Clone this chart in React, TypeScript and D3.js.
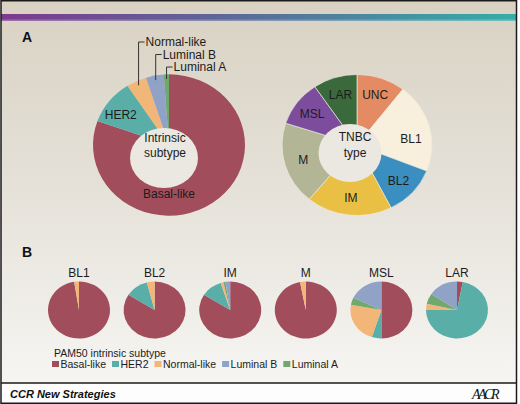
import React from "react";
import * as d3 from "d3";

// PAM50 intrinsic subtype share among all TNBC (clockwise from 12 o'clock)
const intrinsicNames = ["Basal-like", "HER2", "Normal-like", "Luminal B", "Luminal A"];
const intrinsicShares = [80.5, 10.3, 4.3, 3.8, 1.1];

// TNBC molecular subtype share (clockwise from 12 o'clock)
const tnbcNames = ["UNC", "BL1", "BL2", "IM", "M", "MSL", "LAR"];
const tnbcShares = [10.5, 20.5, 11.5, 18.5, 19, 10.5, 9.5];

// intrinsic subtype per TNBC subtype, slices in this order
const pieOrder = ["Basal-like", "HER2", "Normal-like", "Luminal A", "Luminal B"];
const subtypeTitles = ["BL1", "BL2", "IM", "M", "MSL", "LAR"];
const bl1Shares = [97.5, 0, 2.5, 0, 0];
const bl2Shares = [84, 12, 4, 0, 0];
const imShares = [84, 11, 1.5, 1, 2.5];
const mShares = [97, 0, 3, 0, 0];
const mslShares = [50, 5, 23, 4, 18];
const larShares = [3, 72, 3.5, 6, 15.5];
const subtypeShares = [bl1Shares, bl2Shares, imShares, mShares, mslShares, larShares];

const legendNames = ["Basal-like", "HER2", "Normal-like", "Luminal B", "Luminal A"];

const intrinsicColor: Record<string, string> = {
  "Basal-like": "#a24d5c",
  HER2: "#5aaea8",
  "Normal-like": "#f2b778",
  "Luminal B": "#90a2c5",
  "Luminal A": "#70a86f",
};
const tnbcColor: Record<string, string> = {
  UNC: "#e48b63",
  BL1: "#f8efdc",
  BL2: "#3b8ec0",
  IM: "#e9c044",
  M: "#b3b597",
  MSL: "#7c4d9d",
  LAR: "#3a6a3c",
};

const FONT = "'Liberation Sans', Arial, Helvetica, sans-serif";
const INK = "#1c1c1c";

type Slice = { name: string; value: number };

const pieGen = d3
  .pie<Slice>()
  .sort(null)
  .value((d) => d.value);

// canvas text measurement for the legend row
function textWidth(s: string, size: number) {
  const ctx = document.createElement("canvas").getContext("2d");
  if (!ctx) return s.length * size * 0.5;
  ctx.font = `${size}px ${FONT}`;
  return ctx.measureText(s).width;
}

function IntrinsicDonut() {
  const cx = 169, cy = 145, r = 76, sy = 0.93;
  const data = intrinsicNames.map((name, i) => ({ name, value: intrinsicShares[i] }));
  const arcs = pieGen(data);
  const arc = d3.arc<d3.PieArcDatum<Slice>>().innerRadius(0).outerRadius(r);
  const pt = (a: number, rad: number) => [cx + rad * Math.sin(a), cy - rad * sy * Math.cos(a)];
  const callouts = ["Normal-like", "Luminal B", "Luminal A"];
  const labelY = d3.scalePoint<string>().domain(callouts).range([42, 67]);
  return (
    <g>
      <g transform={`translate(${cx},${cy}) scale(1,${sy})`}>
        {arcs.map((a) => (
          <path key={a.data.name} d={arc(a) || ""} fill={intrinsicColor[a.data.name]} />
        ))}
      </g>
      <ellipse cx={cx - 5} cy={cy + 13} rx={34} ry={30} fill="#ebe8e1" />
      <text x={cx - 4} y={cy - 3} textAnchor="middle" fontSize={12} fill={INK} fontFamily={FONT}>
        Intrinsic
      </text>
      <text x={cx - 4} y={cy + 12} textAnchor="middle" fontSize={12} fill={INK} fontFamily={FONT}>
        subtype
      </text>
      {arcs.map((a) => {
        const mid = (a.startAngle + a.endAngle) / 2;
        if (a.data.name === "Basal-like") {
          // sits below the hole rather than at the slice centroid
          const [x, y] = pt(Math.PI, 52);
          return (
            <text key="bl" x={x} y={y} dy="0.35em" textAnchor="middle" fontSize={12} fill={INK} fontFamily={FONT}>
              Basal-like
            </text>
          );
        }
        if (a.data.name === "HER2") {
          const [x, y] = pt(mid - 0.08, 58);
          return (
            <text key="her2" x={x} y={y} dy="0.35em" textAnchor="middle" fontSize={12} fill={INK} fontFamily={FONT}>
              HER2
            </text>
          );
        }
        const [x0, y0] = pt(mid, r - 5);
        const ly = labelY(a.data.name) as number;
        return (
          <g key={a.data.name}>
            <path d={`M${x0},${y0}V${ly}h6`} fill="none" stroke="#333" strokeWidth={1} />
            <text x={x0 + 7} y={ly} dy="0.35em" fontSize={12} fill={INK} fontFamily={FONT}>
              {a.data.name}
            </text>
          </g>
        );
      })}
    </g>
  );
}

function TnbcDonut() {
  const cx = 357, cy = 145, r = 75, sy = 0.94;
  const data = tnbcNames.map((name, i) => ({ name, value: tnbcShares[i] }));
  const arcs = pieGen(data);
  const arc = d3.arc<d3.PieArcDatum<Slice>>().innerRadius(0).outerRadius(r);
  const labelArc = d3.arc<d3.PieArcDatum<Slice>>().innerRadius(56).outerRadius(56);
  const nudgeY: Record<string, number> = { BL1: 8 };
  return (
    <g>
      <g transform={`translate(${cx},${cy}) scale(1,${sy})`}>
        {arcs.map((a) => (
          <path
            key={a.data.name}
            d={arc(a) || ""}
            fill={tnbcColor[a.data.name]}
            stroke="#efe9dc"
            strokeWidth={0.7}
          />
        ))}
      </g>
      <ellipse cx={cx - 7} cy={cy + 8} rx={31.5} ry={29} fill="#ebe8e1" />
      <text x={cx - 2} y={cy - 4} textAnchor="middle" fontSize={12} fill={INK} fontFamily={FONT}>
        TNBC
      </text>
      <text x={cx - 2} y={cy + 12} textAnchor="middle" fontSize={12} fill={INK} fontFamily={FONT}>
        type
      </text>
      {arcs.map((a) => {
        const [x, y] = labelArc.centroid(a);
        return (
          <text
            key={a.data.name}
            x={cx + x}
            y={cy + y * sy + (nudgeY[a.data.name] || 0)}
            dy="0.35em"
            textAnchor="middle"
            fontSize={12}
            fill={INK}
            fontFamily={FONT}
          >
            {a.data.name}
          </text>
        );
      })}
    </g>
  );
}

function SubtypePies() {
  const x = d3.scalePoint<string>().domain(subtypeTitles).range([79, 457]);
  const cy = 310, r = 31, sy = 0.92;
  const arc = d3.arc<d3.PieArcDatum<Slice>>().innerRadius(0).outerRadius(r);
  return (
    <g>
      {subtypeTitles.map((title, i) => {
        const data = pieOrder.map((name, j) => ({ name, value: subtypeShares[i][j] }));
        const arcs = pieGen(data).filter((a) => a.data.value > 0);
        const px = x(title) as number;
        return (
          <g key={title}>
            <text x={px} y={273} dy="0.35em" textAnchor="middle" fontSize={12} fill={INK} fontFamily={FONT}>
              {title}
            </text>
            <g transform={`translate(${px},${cy}) scale(1,${sy})`}>
              {arcs.map((a) => (
                <path key={a.data.name} d={arc(a) || ""} fill={intrinsicColor[a.data.name]} />
              ))}
            </g>
          </g>
        );
      })}
    </g>
  );
}

function Legend() {
  const size = 10.5;
  let cursor = 52;
  const items = legendNames.map((name) => {
    const item = { name, x: cursor };
    cursor += 8.5 + textWidth(name, size) + 6;
    return item;
  });
  return (
    <g fontFamily={FONT} fontSize={size} fill={INK}>
      <text x={54} y={353} dy="0.35em">
        PAM50 intrinsic subtype
      </text>
      {items.map((it) => (
        <g key={it.name}>
          <rect x={it.x} y={361} width={7} height={6} fill={intrinsicColor[it.name]} />
          <text x={it.x + 8.5} y={364} dy="0.35em">
            {it.name}
          </text>
        </g>
      ))}
    </g>
  );
}

export default function App() {
  const W = 520, H = 404;
  return (
    <div style={{ position: "absolute", left: 0, top: 0 }}>
      <svg width={W} height={H} style={{ display: "block" }}>
        <defs>
          <linearGradient id="bg" x1="0" y1="0" x2="0" y2="1">
            <stop offset="0" stopColor="#d9d2c3" />
            <stop offset="0.45" stopColor="#e4e0d7" />
            <stop offset="1" stopColor="#f6f5f2" />
          </linearGradient>
          <linearGradient id="band" x1="0" y1="0" x2="1" y2="0">
            <stop offset="0" stopColor="#7d3a8e" />
            <stop offset="0.45" stopColor="#5c6998" />
            <stop offset="1" stopColor="#35ada7" />
          </linearGradient>
        </defs>
        <rect width={W} height={H} fill="#fff" />
        <rect x={1} y={1} width={515.5} height={382} fill="url(#bg)" />
        <rect x={1} y={14} width={515.5} height={7} fill="url(#band)" />
        <rect x={1} y={19.5} width={515.5} height={1.5} fill="#ffffff" opacity={0.25} />

        <text x={22} y={42} fontFamily={FONT} fontWeight="bold" fontSize={14} fill="#111">
          A
        </text>
        <text x={22} y={257} fontFamily={FONT} fontWeight="bold" fontSize={14} fill="#111">
          B
        </text>

        <IntrinsicDonut />
        <TnbcDonut />
        <SubtypePies />
        <Legend />

        <rect x={1} y={383} width={515.5} height={20} fill="#fdfdfd" />
        <line x1={1} x2={516.5} y1={383} y2={383} stroke="#1a1a1a" strokeWidth={1.5} />
        <text x={10} y={398} fontFamily={FONT} fontWeight="bold" fontStyle="italic" fontSize={11} fill="#111">
          CCR New Strategies
        </text>
        <text
          x={497}
          y={399}
          textAnchor="end"
          fontFamily="'Liberation Serif', 'DejaVu Serif', serif"
          fontStyle="italic"
          fontSize={14}
          letterSpacing={-2.5}
          fill="#111"
        >
          AACR
        </text>
        <rect x={1} y={0.75} width={515.5} height={402.5} fill="none" stroke="#1a1a1a" strokeWidth={1.5} />
      </svg>
    </div>
  );
}
